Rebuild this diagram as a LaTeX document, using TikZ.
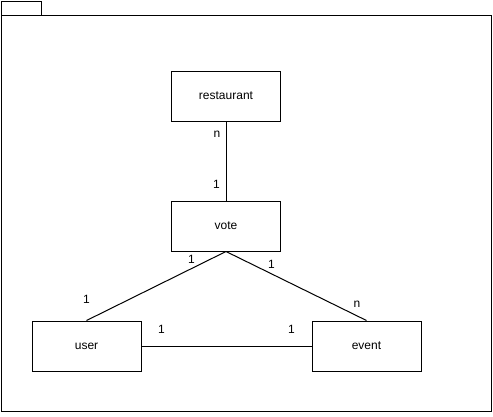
\documentclass[tikz,border=0pt]{standalone}
\usepackage{fontspec}
\setmainfont{Liberation Sans}
\begin{document}
\begin{tikzpicture}[x=1pt,y=-1pt,line width=1pt,
  entity/.style={draw,minimum width=109pt,minimum height=50pt,inner sep=0pt,font=\fontsize{12}{14}\selectfont},
  mult/.style={inner sep=0pt,font=\fontsize{12}{14}\selectfont},
  conn/.style={draw}]
\useasboundingbox (0,0) rectangle (493,416);
% frame
\draw (1.5,1.5) rectangle (41,15);
\draw (1.5,15) rectangle (491,411);
% entities
\node[entity] (restaurant) at (226,96) {restaurant};
\node[entity] (vote) at (226,226) {vote};
\node[entity] (user) at (86.5,346) {user};
\node[entity] (event) at (366.5,346) {event};
% connectors
\draw (restaurant.south) -- (vote.north);
\draw (vote.south) -- (user.north);
\draw (vote.south) -- (event.north);
\draw (user.east) -- (event.west);
% multiplicities
\node[mult] (m1) at (217,134) {n};
\node[mult] (m2) at (216.5,184) {1};
\node[mult] (m3) at (191.5,259) {1};
\node[mult] (m4) at (86.5,299) {1};
\node[mult] (m5) at (271.5,264) {1};
\node[mult] (m6) at (357,304) {n};
\node[mult] (m7) at (161.5,329) {1};
\node[mult] (m8) at (291.5,329) {1};
\end{tikzpicture}
\end{document}
